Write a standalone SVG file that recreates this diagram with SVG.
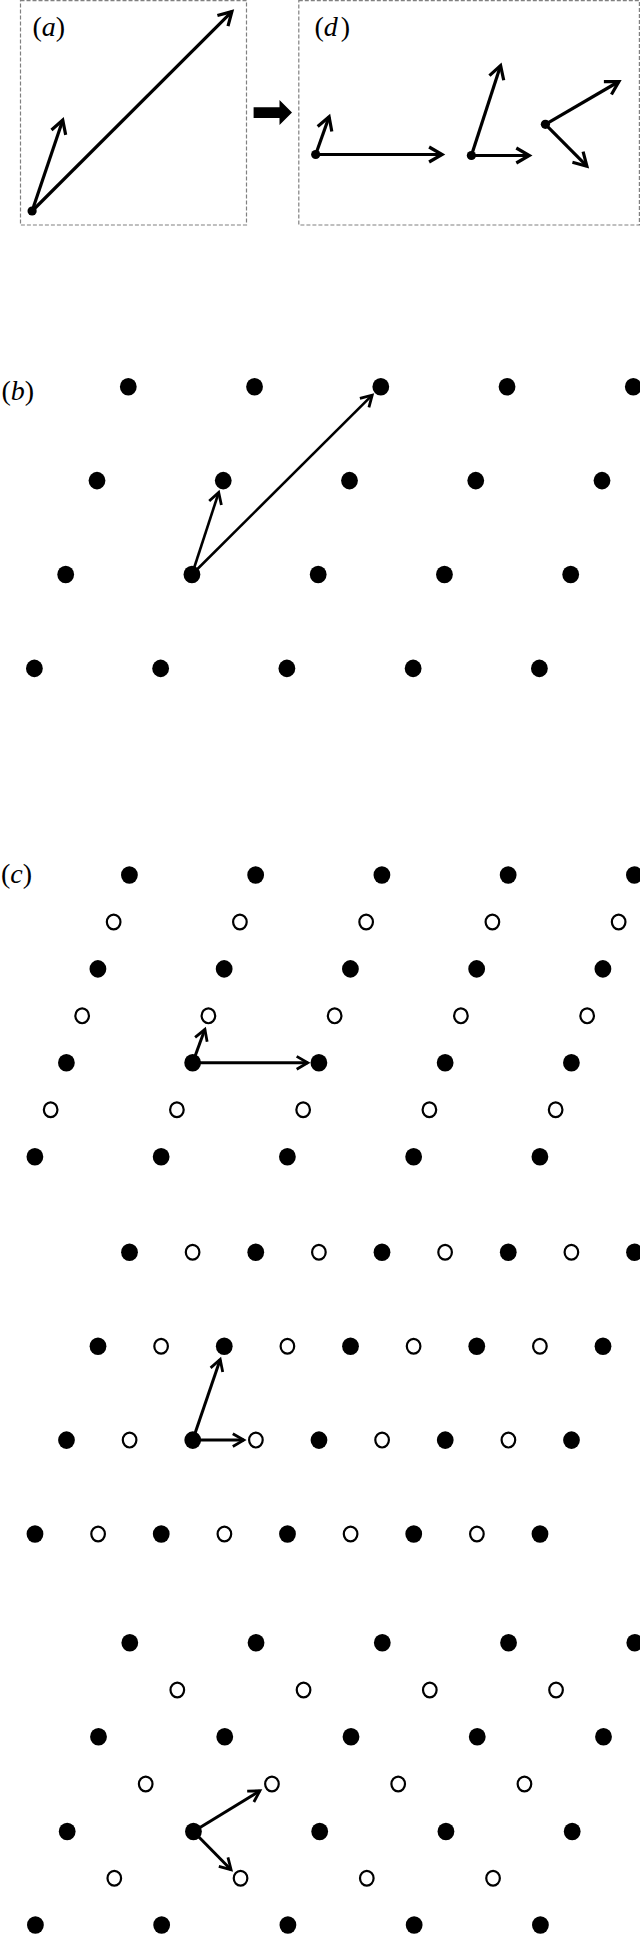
<svg xmlns="http://www.w3.org/2000/svg" xmlns:xlink="http://www.w3.org/1999/xlink" width="640" height="1934" viewBox="0 0 640 1934">
<style>
.frame{fill:none;stroke:#808080;stroke-width:1.2;stroke-dasharray:4 2}
.lbl{font-family:"Liberation Serif","Times New Roman",serif;font-size:28px;fill:#000}
.it{font-style:italic}
.f{fill:#000}
.o{fill:#fff;stroke:#000;stroke-width:2.2}
.va{fill:none;stroke:#000;stroke-width:3.2;marker-end:url(#mA)}
.vb{fill:none;stroke:#000;stroke-width:2.6;marker-end:url(#mC)}
.vc{fill:none;stroke:#000;stroke-width:3;marker-end:url(#mC)}
</style>
<defs>
<marker id="mA" markerUnits="userSpaceOnUse" viewBox="-20 -20 40 40" markerWidth="40" markerHeight="40" refX="0" refY="0" orient="auto" overflow="visible">
<path d="M-13,-7.5 L0,0 L-13,7.5" fill="none" stroke="#000" stroke-width="3.2" stroke-linejoin="miter"/>
</marker>
<marker id="mC" markerUnits="userSpaceOnUse" viewBox="-20 -20 40 40" markerWidth="40" markerHeight="40" refX="0" refY="0" orient="auto" overflow="visible">
<path d="M-11,-6.4 L0,0 L-11,6.4" fill="none" stroke="#000" stroke-width="2.8" stroke-linejoin="miter"/>
</marker>
<ellipse id="F" cx="0" cy="0" rx="8.4" ry="8.8" class="f"/>
<ellipse id="O" cx="0" cy="0" rx="6.8" ry="7.4" class="o"/>
</defs>

<!-- Panel (a) -->
<g id="panel-a">
<rect class="frame" x="20.5" y="0.6" width="226" height="224.4"/>
<text class="lbl" x="32.5" y="35.5">(<tspan class="it">a</tspan>)</text>
<circle cx="32.1" cy="211" r="4.6" class="f"/>
</g>

<!-- Block arrow -->
<g id="transform-arrow">
<polygon points="253.6,107.3 279.5,107.3 279.5,100 292,112.5 279.5,125 279.5,118 253.6,118" fill="#000"/>
</g>

<!-- Panel (d) -->
<g id="panel-d">
<rect class="frame" x="298.8" y="0.6" width="340.6" height="224.4"/>
<text class="lbl" x="314.5" y="35.5">(<tspan class="it">d</tspan><tspan dx="3">)</tspan></text>
<circle cx="315.7" cy="154.5" r="4.6" class="f"/>
<circle cx="471.4" cy="155.5" r="4.6" class="f"/>
<circle cx="545.4" cy="124.3" r="4.6" class="f"/>
</g>

<!-- Panel (b) -->
<g id="panel-b">
<text class="lbl" x="1.5" y="400">(<tspan class="it">b</tspan>)</text>
<use href="#F" x="128.3" y="386.7"/><use href="#F" x="254.55" y="386.7"/><use href="#F" x="380.8" y="386.7"/><use href="#F" x="507.05" y="386.7"/><use href="#F" x="633.3" y="386.7"/>
<use href="#F" x="97" y="480.6"/><use href="#F" x="223.25" y="480.6"/><use href="#F" x="349.5" y="480.6"/><use href="#F" x="475.75" y="480.6"/><use href="#F" x="602" y="480.6"/>
<use href="#F" x="65.7" y="574.5"/><use href="#F" x="191.95" y="574.5"/><use href="#F" x="318.2" y="574.5"/><use href="#F" x="444.45" y="574.5"/><use href="#F" x="570.7" y="574.5"/>
<use href="#F" x="34.4" y="668.4"/><use href="#F" x="160.65" y="668.4"/><use href="#F" x="286.9" y="668.4"/><use href="#F" x="413.15" y="668.4"/><use href="#F" x="539.4" y="668.4"/>
</g>

<!-- Panel (c) top -->
<g id="panel-c1">
<text class="lbl" x="1" y="883">(<tspan class="it">c</tspan>)</text>
<use href="#F" x="129.4" y="875"/><use href="#F" x="255.65" y="875"/><use href="#F" x="381.9" y="875"/><use href="#F" x="508.15" y="875"/><use href="#F" x="634.4" y="875"/>
<use href="#O" x="113.65" y="921.95"/><use href="#O" x="239.9" y="921.95"/><use href="#O" x="366.15" y="921.95"/><use href="#O" x="492.4" y="921.95"/><use href="#O" x="618.65" y="921.95"/>
<use href="#F" x="97.9" y="968.9"/><use href="#F" x="224.15" y="968.9"/><use href="#F" x="350.4" y="968.9"/><use href="#F" x="476.65" y="968.9"/><use href="#F" x="602.9" y="968.9"/>
<use href="#O" x="82.15" y="1015.85"/><use href="#O" x="208.4" y="1015.85"/><use href="#O" x="334.65" y="1015.85"/><use href="#O" x="460.9" y="1015.85"/><use href="#O" x="587.15" y="1015.85"/>
<use href="#F" x="66.4" y="1062.8"/><use href="#F" x="192.65" y="1062.8"/><use href="#F" x="318.9" y="1062.8"/><use href="#F" x="445.15" y="1062.8"/><use href="#F" x="571.4" y="1062.8"/>
<use href="#O" x="50.65" y="1109.75"/><use href="#O" x="176.9" y="1109.75"/><use href="#O" x="303.15" y="1109.75"/><use href="#O" x="429.4" y="1109.75"/><use href="#O" x="555.65" y="1109.75"/>
<use href="#F" x="34.9" y="1156.7"/><use href="#F" x="161.15" y="1156.7"/><use href="#F" x="287.4" y="1156.7"/><use href="#F" x="413.65" y="1156.7"/><use href="#F" x="539.9" y="1156.7"/>
</g>

<!-- Panel (c) middle -->
<g id="panel-c2">
<use href="#F" x="129.5" y="1252.3"/><use href="#O" x="192.6" y="1252.3"/><use href="#F" x="255.75" y="1252.3"/><use href="#O" x="318.9" y="1252.3"/><use href="#F" x="382" y="1252.3"/><use href="#O" x="445.1" y="1252.3"/><use href="#F" x="508.25" y="1252.3"/><use href="#O" x="571.4" y="1252.3"/><use href="#F" x="634.5" y="1252.3"/>
<use href="#F" x="98" y="1346.2"/><use href="#O" x="161.1" y="1346.2"/><use href="#F" x="224.25" y="1346.2"/><use href="#O" x="287.4" y="1346.2"/><use href="#F" x="350.5" y="1346.2"/><use href="#O" x="413.6" y="1346.2"/><use href="#F" x="476.75" y="1346.2"/><use href="#O" x="539.9" y="1346.2"/><use href="#F" x="603" y="1346.2"/>
<use href="#F" x="66.5" y="1440.1"/><use href="#O" x="129.6" y="1440.1"/><use href="#F" x="192.75" y="1440.1"/><use href="#O" x="255.9" y="1440.1"/><use href="#F" x="319" y="1440.1"/><use href="#O" x="382.1" y="1440.1"/><use href="#F" x="445.25" y="1440.1"/><use href="#O" x="508.4" y="1440.1"/><use href="#F" x="571.5" y="1440.1"/>
<use href="#F" x="35" y="1534"/><use href="#O" x="98.1" y="1534"/><use href="#F" x="161.25" y="1534"/><use href="#O" x="224.4" y="1534"/><use href="#F" x="287.5" y="1534"/><use href="#O" x="350.6" y="1534"/><use href="#F" x="413.75" y="1534"/><use href="#O" x="476.9" y="1534"/><use href="#F" x="540" y="1534"/>
</g>

<!-- Panel (c) bottom -->
<g id="panel-c3">
<use href="#F" x="129.8" y="1642.7"/><use href="#F" x="256.05" y="1642.7"/><use href="#F" x="382.3" y="1642.7"/><use href="#F" x="508.55" y="1642.7"/><use href="#F" x="634.8" y="1642.7"/>
<use href="#O" x="177.3" y="1690"/><use href="#O" x="303.55" y="1690"/><use href="#O" x="429.8" y="1690"/><use href="#O" x="556.05" y="1690"/>
<use href="#F" x="98.5" y="1736.8"/><use href="#F" x="224.75" y="1736.8"/><use href="#F" x="351" y="1736.8"/><use href="#F" x="477.25" y="1736.8"/><use href="#F" x="603.5" y="1736.8"/>
<use href="#O" x="145.7" y="1784"/><use href="#O" x="271.95" y="1784"/><use href="#O" x="398.2" y="1784"/><use href="#O" x="524.45" y="1784"/>
<use href="#F" x="67.2" y="1831.5"/><use href="#F" x="193.45" y="1831.5"/><use href="#F" x="319.7" y="1831.5"/><use href="#F" x="445.95" y="1831.5"/><use href="#F" x="572.2" y="1831.5"/>
<use href="#O" x="114.3" y="1878.3"/><use href="#O" x="240.55" y="1878.3"/><use href="#O" x="366.8" y="1878.3"/><use href="#O" x="493.05" y="1878.3"/>
<use href="#F" x="35.4" y="1925"/><use href="#F" x="161.65" y="1925"/><use href="#F" x="287.9" y="1925"/><use href="#F" x="414.15" y="1925"/><use href="#F" x="540.4" y="1925"/>
</g>

<!-- Connectors (vectors) -->
<g id="connectors">
<line class="va" x1="32.1" y1="211" x2="62.74" y2="120.14"/>
<line class="va" x1="32.1" y1="211" x2="231.9" y2="11.6"/>
<line class="va" x1="315.7" y1="154.5" x2="329.1" y2="116.8"/>
<line class="va" x1="315.7" y1="154.5" x2="442.1" y2="154.5"/>
<line class="va" x1="471.4" y1="155.5" x2="500.6" y2="65.6"/>
<line class="va" x1="471.4" y1="155.5" x2="529.3" y2="155.5"/>
<line class="va" x1="545.4" y1="124.3" x2="618.9" y2="81.5"/>
<line class="va" x1="545.4" y1="124.3" x2="586.9" y2="166.2"/>
<line class="vb" x1="191.95" y1="574.5" x2="218.7" y2="492.5"/>
<line class="vb" x1="191.95" y1="574.5" x2="372.2" y2="395.1"/>
<line class="vc" x1="192.65" y1="1062.8" x2="204.9" y2="1029.3"/>
<line class="vc" x1="192.65" y1="1062.8" x2="307.7" y2="1062.8"/>
<line class="vc" x1="192.75" y1="1440.1" x2="220.2" y2="1359.5"/>
<line class="vc" x1="192.75" y1="1440.1" x2="243.8" y2="1440.1"/>
<line class="vc" x1="193.45" y1="1831.5" x2="259.9" y2="1790.8"/>
<line class="vc" x1="193.45" y1="1831.5" x2="231.1" y2="1869.7"/>
</g>
</svg>
